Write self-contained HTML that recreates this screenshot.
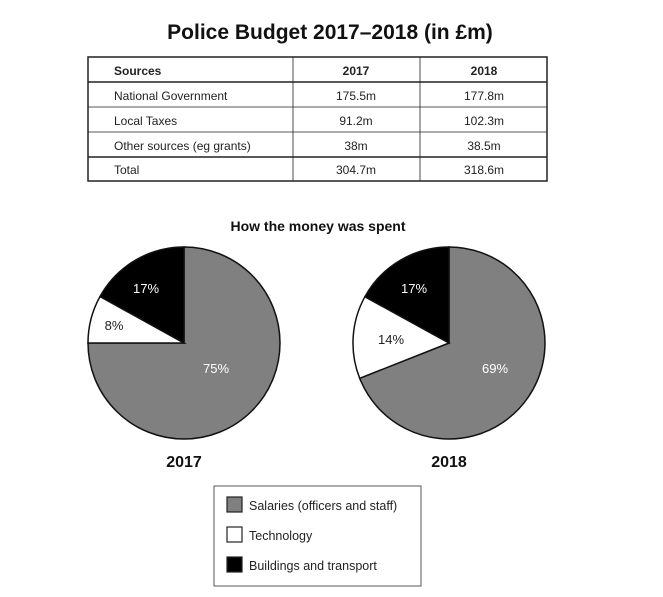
<!DOCTYPE html>
<html><head><meta charset="utf-8"><style>
body{margin:0;background:#fff;}
svg{display:block;font-family:"Liberation Sans",Arial,sans-serif;}
</style></head><body>
<svg width="663" height="597" viewBox="0 0 663 597">
<text x="330" y="39" font-size="21" font-weight="bold" text-anchor="middle" fill="#111">Police Budget 2017–2018 (in £m)</text>
<g stroke="#222" fill="none">
<rect x="88" y="57" width="459" height="124" stroke-width="1.5"/>
<line x1="88" y1="82" x2="547" y2="82" stroke-width="1.5"/>
<line x1="88" y1="107" x2="547" y2="107" stroke-width="0.8"/>
<line x1="88" y1="132" x2="547" y2="132" stroke-width="0.8"/>
<line x1="88" y1="157" x2="547" y2="157" stroke-width="1.5"/>
<line x1="293" y1="57" x2="293" y2="181" stroke-width="0.8"/>
<line x1="420" y1="57" x2="420" y2="181" stroke-width="0.8"/>
</g>
<g font-size="12" fill="#222">
<text x="114" y="75" font-weight="bold">Sources</text>
<text x="356" y="75" font-weight="bold" text-anchor="middle">2017</text>
<text x="484" y="75" font-weight="bold" text-anchor="middle">2018</text>
<text x="114" y="100">National Government</text>
<text x="356" y="100" text-anchor="middle">175.5m</text>
<text x="484" y="100" text-anchor="middle">177.8m</text>
<text x="114" y="125">Local Taxes</text>
<text x="356" y="125" text-anchor="middle">91.2m</text>
<text x="484" y="125" text-anchor="middle">102.3m</text>
<text x="114" y="150">Other sources (eg grants)</text>
<text x="356" y="150" text-anchor="middle">38m</text>
<text x="484" y="150" text-anchor="middle">38.5m</text>
<text x="114" y="174">Total</text>
<text x="356" y="174" text-anchor="middle">304.7m</text>
<text x="484" y="174" text-anchor="middle">318.6m</text>
</g>
<text x="318" y="231" font-size="14" font-weight="bold" text-anchor="middle" fill="#111">How the money was spent</text>
<g stroke="#111" stroke-width="1.5">
<path d="M184 343 L184 247 A96 96 0 1 1 88 343 Z" fill="#808080"/>
<path d="M184 343 L88 343 A96 96 0 0 1 100 296.5 Z" fill="#fff"/>
<path d="M184 343 L100 296.5 A96 96 0 0 1 184 247 Z" fill="#000"/>
<path d="M449 343 L449 247 A96 96 0 1 1 359.7 378.3 Z" fill="#808080"/>
<path d="M449 343 L359.7 378.3 A96 96 0 0 1 364.9 296.7 Z" fill="#fff"/>
<path d="M449 343 L364.9 296.7 A96 96 0 0 1 449 247 Z" fill="#000"/>
</g>
<g font-size="13" text-anchor="middle">
<text x="146" y="293" fill="#fff">17%</text>
<text x="114" y="330" fill="#222">8%</text>
<text x="216" y="373" fill="#fff">75%</text>
<text x="414" y="293" fill="#fff">17%</text>
<text x="391" y="344" fill="#222">14%</text>
<text x="495" y="373" fill="#fff">69%</text>
</g>
<text x="184" y="467" font-size="16" font-weight="bold" text-anchor="middle" fill="#111">2017</text>
<text x="449" y="467" font-size="16" font-weight="bold" text-anchor="middle" fill="#111">2018</text>
<rect x="214" y="486" width="207" height="100" fill="#fff" stroke="#555" stroke-width="1"/>
<rect x="227" y="497" width="15" height="15" fill="#808080" stroke="#222" stroke-width="1.2"/>
<rect x="227" y="527" width="15" height="15" fill="#fff" stroke="#222" stroke-width="1.2"/>
<rect x="227" y="557" width="15" height="15" fill="#000" stroke="#222" stroke-width="1.2"/>
<g font-size="12.5" fill="#222">
<text x="249" y="510">Salaries (officers and staff)</text>
<text x="249" y="540">Technology</text>
<text x="249" y="570">Buildings and transport</text>
</g>
</svg>
</body></html>
